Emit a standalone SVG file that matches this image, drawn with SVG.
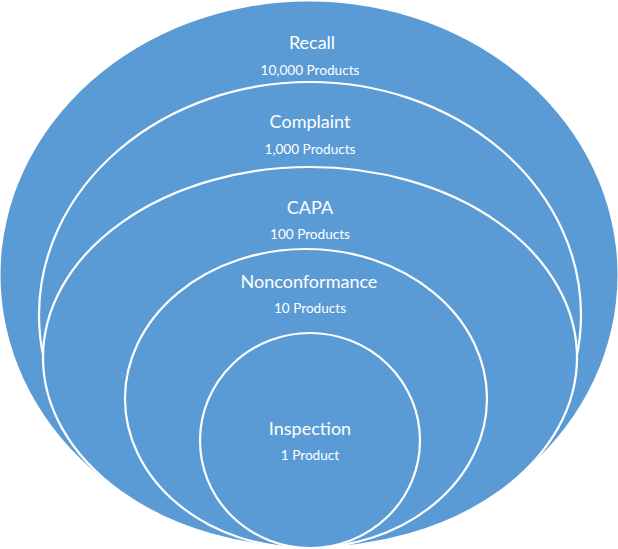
<svg xmlns="http://www.w3.org/2000/svg" width="618" height="549" viewBox="0 0 618 549">
<style>
.ring{fill:#5B9BD5;stroke:#FFFFFF;stroke-width:2.2}
.outer{fill:#5B9BD5;stroke:none}
.title{font-family:Lato,"Open Sans","Liberation Sans",sans-serif;font-size:18px;fill:#FFFFFF;text-anchor:middle}
.sub{font-family:Lato,"Open Sans","Liberation Sans",sans-serif;font-size:13.6px;fill:#FFFFFF;text-anchor:middle}
</style>
<rect width="618" height="549" fill="#FFFFFF"/>
<g id="recall">
<ellipse class="outer" cx="309" cy="275" rx="308.5" ry="273.5"/>
<text class="title" x="312" y="49">Recall</text>
<text class="sub" x="310" y="75">10,000 Products</text>
</g>
<g id="complaint">
<ellipse class="ring" cx="310" cy="315" rx="271" ry="233"/>
<text class="title" x="310" y="128">Complaint</text>
<text class="sub" x="310" y="154">1,000 Products</text>
</g>
<g id="capa">
<ellipse class="ring" cx="310" cy="357.5" rx="267" ry="190.5"/>
<text class="title" x="310" y="214">CAPA</text>
<text class="sub" x="310" y="239">100 Products</text>
</g>
<g id="nonconformance">
<ellipse class="ring" cx="306" cy="398.5" rx="181" ry="149.5"/>
<text class="title" x="309" y="288">Nonconformance</text>
<text class="sub" x="310" y="313">10 Products</text>
</g>
<g id="inspection">
<ellipse class="ring" cx="310" cy="440.5" rx="110" ry="107.5"/>
<text class="title" x="310" y="435">Inspection</text>
<text class="sub" x="310" y="460">1 Product</text>
</g>
<g id="connectors"/>
</svg>
